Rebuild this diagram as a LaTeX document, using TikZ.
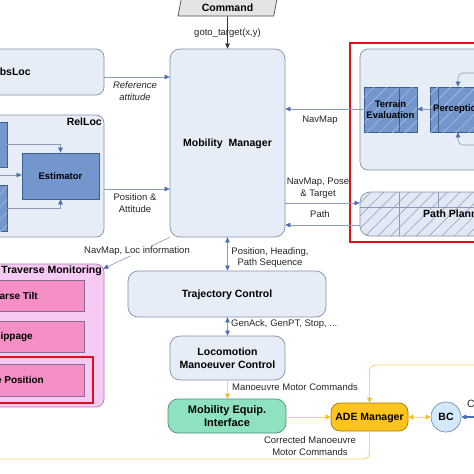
\documentclass[tikz,border=0pt]{standalone}
\usepackage{fontspec}
\setmainfont{Liberation Sans}
\usetikzlibrary{arrows.meta,patterns.meta,shapes.geometric}
\definecolor{grpborder}{HTML}{8391A8}
\definecolor{grpfill}{HTML}{E6EDF7}
\definecolor{darkborder}{HTML}{3F5F90}
\definecolor{darkfill}{HTML}{7397CC}
\definecolor{hatchlight}{HTML}{A9C1E6}
\definecolor{hatchdark}{HTML}{8A9AB8}
\definecolor{ppfill}{HTML}{E2E9F4}
\definecolor{linegray}{HTML}{8A9BB5}
\definecolor{arrowblue}{HTML}{4A6FB0}
\definecolor{tmfill}{HTML}{F7CAF4}
\definecolor{tmborder}{HTML}{B07FB0}
\definecolor{pinkfill}{HTML}{F490C6}
\definecolor{pinkborder}{HTML}{8C6C96}
\definecolor{redline}{HTML}{E0101A}
\definecolor{greenfill}{HTML}{8EE2BF}
\definecolor{greenborder}{HTML}{4E8C70}
\definecolor{adefill}{HTML}{FFC51E}
\definecolor{adeborder}{HTML}{A07C00}
\definecolor{bcfill}{HTML}{D3E9F9}
\definecolor{bcborder}{HTML}{6F8FB0}
\definecolor{yline}{HTML}{F4D56E}
\definecolor{yhead}{HTML}{F0C020}
\definecolor{cmdfill}{HTML}{E4E4E4}
\newcommand\fsmall{\fontsize{9.5}{11.5}\selectfont}
\newcommand\fmain{\fontsize{10.5}{12.5}\selectfont}
\begin{document}
\begin{tikzpicture}[x=1pt,y=-1pt,font=\fsmall,
  bx/.style args={#1/#2/#3/#4}{minimum width={(#3)-(#1)}, minimum height={(#4)-(#2)},
     at={({((#1)+(#3))/2},{((#2)+(#4))/2})}},
  grp/.style={draw=grpborder, fill=grpfill, rounded corners=8pt, line width=0.7pt, inner sep=0pt},
  mainbox/.style={grp, rounded corners=10pt, font=\fmain\bfseries, align=center, text depth=0pt},
  darkb/.style={draw=darkborder, fill=darkfill, line width=0.7pt, inner sep=0pt, font=\fsmall\bfseries, align=center},
  hatchd/.style={postaction={pattern={Lines[angle=45,distance=9pt,line width=0.6pt]}, pattern color=hatchlight}},
  hatchl/.style={postaction={pattern={Lines[angle=45,distance=9pt,line width=0.5pt]}, pattern color=hatchdark}},
  tgrp/.style={draw=tmborder, fill=tmfill, rounded corners=8pt, line width=0.7pt, inner sep=0pt},
  pinkb/.style={draw=pinkborder, fill=pinkfill, line width=0.7pt, inner sep=0pt},
  redbox/.style={draw=redline, line width=2.4pt},
  ttl/.style={font=\fmain\bfseries, inner sep=1pt},
  inner/.style={font=\fontsize{10}{12}\selectfont\bfseries, inner sep=1pt},
  lbl/.style={font=\fsmall, align=center, inner sep=1pt, text=black!85},
  arr/.style={draw=linegray, line width=0.6pt, -{Triangle[length=5pt,width=4.5pt,color=arrowblue]}},
  darr/.style={draw=linegray, line width=0.6pt, {Triangle[length=5pt,width=4.5pt,color=arrowblue]}-{Triangle[length=5pt,width=4.5pt,color=arrowblue]}},
  yarr/.style={draw=yline, line width=0.9pt, -{Triangle[length=5pt,width=5pt,color=yhead]}},
  ydarr/.style={draw=yline, line width=0.9pt, {Triangle[length=5pt,width=5pt,color=yhead]}-{Triangle[length=5pt,width=5pt,color=yhead]}},
  yplain/.style={draw=yline, line width=0.9pt}]
\useasboundingbox (0,0) rectangle (474,474);
\clip (0,0) rectangle (474,474);
\fill[white] (0,0) rectangle (474,474);

% level coordinates
\coordinate (y77) at (0,77);
\coordinate (y109) at (0,109);
\coordinate (y144) at (0,144);
\coordinate (y189) at (0,189);
\coordinate (y203) at (0,203);
\coordinate (y208) at (0,208);
\coordinate (y225) at (0,225);
\coordinate (x458) at (458,0);

% Command
\node[trapezium, trapezium left angle=67, trapezium right angle=113, trapezium stretches body,
      minimum width=99pt, minimum height=17pt, inner sep=0pt, draw=black!70, fill=cmdfill,
      line width=0.7pt, font=\fmain\bfseries] (cmd) at (227.5,7.5) {Command};

% Mobility Manager
\node[mainbox, bx=170/49/285/237] (mm) {Mobility~ Manager};

% AbsLoc
\node[grp, bx=-20/49/104/95] (abs) {};
\node[ttl, anchor=west] (abst) at (-9,72) {AbsLoc};

% RelLoc
\node[grp, bx=-20/115/104/237] (rel) {};
\node[ttl, anchor=north east] (relt) at (103,117) {RelLoc};
\node[darkb, bx=22/153/99/199] (est) {Estimator};
\node[darkb, bx=-20/122/7/167] (l1) {};
\node[darkb, hatchd, bx=-20/185/7/231] (l2) {};
\coordinate (lin) at (-5,175);
\draw[arr] (l1.east |- y144) -| (est.north);
\draw[arr] (lin) -- (est.west |- lin);
\draw[arr] (l2.east |- y208) -| (est.south);

% Perception group
\node[grp, bx=360/49/500/170] (pgrp) {};
\node[darkb, hatchd, bx=364/87/417/132] (te) {};
\draw[darkborder, line width=0.5pt] (399,87) -- (399,132);
\node[inner, align=center, font=\fsmall\bfseries] (tet) at (te) {Terrain\\Evaluation};
\node[darkb, hatchd, bx=430/87/500/132] (per) {};
\draw[darkborder, line width=0.5pt] (438,87) -- (438,132);
\node[inner, anchor=west, font=\fsmall\bfseries] (pert) at (432,109) {Perception};
\coordinate (lp1) at (490,73);
\coordinate (lp2) at (490,145);
\draw[arr, rounded corners=5pt] (lp1) -| (per.north -| x458);
\draw[arr, rounded corners=5pt] (lp2) -| (per.south -| x458);
\draw[arr] (per.west |- y109) -- (te.east |- y109);

% Path Planner
\node[grp, fill=ppfill, hatchl, rounded corners=10pt, bx=360/192/500/236] (pp) {};
\draw[hatchdark, line width=0.5pt] (360,207) -- (474,207);
\draw[hatchdark, line width=0.5pt] (399,192) -- (399,236);
\draw[hatchdark, line width=0.5pt] (438,192) -- (438,207);
\node[ttl, anchor=west] (ppt) at (422,214) {Path Planner};

% red frame right
\draw[redbox] (350,43) rectangle (500,242);

% connectors to Mobility Manager
\draw[black!80, line width=0.6pt, -{Triangle[length=5pt,width=4.5pt]}] (cmd.south) -- (mm.north);
\node[lbl] (goto) at (227.5,33) {goto\_target(x,y)};
\draw[arr] (abs.east |- y77) -- (mm.west |- y77);
\node[lbl, font=\fsmall\itshape] (refatt) at (135,91) {Reference\\attitude};
\draw[arr] (rel.east |- y189) -- (mm.west |- y189);
\node[lbl] (posatt) at (135,203) {Position \&\\Attitude};
\draw[arr] (te.west |- y109) -- (mm.east |- y109);
\node[lbl] (navmap) at (320,120) {NavMap};
\draw[arr] (mm.east |- y203) -- (pp.west |- y203);
\node[lbl] (navpose) at (318,188) {NavMap, Pose\\\& Target};
\draw[arr] (pp.west |- y225) -- (mm.east |- y225);
\node[lbl] (path) at (320,214) {Path};

% Traverse Monitoring
\node[tgrp, bx=-20/264/104/407] (tm) {};
\node[ttl, anchor=north east] (tmt) at (103,265) {Traverse Monitoring};
\node[pinkb, bx=-20/280/84/311] (p1) {};
\node[inner, anchor=east] (p1t) at (39,296) {Coarse Tilt};
\node[pinkb, bx=-20/321/84/352] (p2) {};
\node[inner, anchor=east] (p2t) at (34,337) {Slippage};
\node[pinkb, bx=-20/364/84/396] (p3) {};
\node[inner, anchor=east] (p3t) at (45,380) {Relative Position};
\draw[redbox] (-20,357) rectangle (93,403);

\draw[arr] (mm.south west) -- ([shift={(-1,5)}]tm.north east);
\node[lbl, fill=white] (navloc) at (137,251) {NavMap, Loc information};

% Trajectory / Locomotion
\node[mainbox, bx=128/271/326/317] (traj) {Trajectory Control};
\node[mainbox, bx=170/336/285/380] (loco) {Locomotion\\Manoeuver Control};
\draw[darr] (mm.south) -- (traj.north -| mm.south);
\node[lbl] (posh) at (270,257.5) {Position, Heading,\\Path Sequence};
\draw[darr] (traj.south -| loco.north) -- (loco.north);
\node[lbl, anchor=west] (gen) at (230,324) {GenAck, GenPT, Stop, ...};

% Mobility Equip, ADE, BC
\node[draw=greenborder, fill=greenfill, rounded corners=10pt, line width=0.7pt, inner sep=0pt, text depth=0pt,
      font=\fontsize{11}{12.5}\selectfont\bfseries, align=center, bx=168/399/286/433] (meq) {Mobility Equip.\\Interface};
\draw[yarr] (loco.south) -- (meq.north -| loco.south);
\node[lbl, anchor=west] (mmc) at (231,387) {Manoeuvre Motor Commands};

\node[draw=adeborder, fill=adefill, rounded corners=9pt, line width=0.7pt, inner sep=0pt, text depth=0pt,
      font=\fmain\bfseries, bx=331/403/408/431] (ade) {ADE Manager};
\node[circle, draw=bcborder, fill=bcfill, line width=0.7pt, minimum size=30pt, inner sep=0pt,
      font=\fmain\bfseries] (bc) at (446,417) {BC};
\draw[yarr] (meq.east |- ade.west) -- (ade.west);
\node[lbl] (cmc) at (310,446) {Corrected Manoeuvre\\Motor Commands};
\draw[ydarr] (ade.east) -- (bc.west);
\coordinate (ytop) at (490,365);
\coordinate (ybot) at (-10,459);
\draw[yarr, rounded corners=6pt] (ytop) -| (ade.north);
\draw[yplain, rounded corners=6pt] (ade.south) |- (ybot);
\coordinate (bcin) at (480,417);
\draw[draw=arrowblue, line width=1.2pt, -{Triangle[length=5pt,width=5pt]}] (bcin) -- (bc.east);
\node[lbl, anchor=west, font=\fmain] (cl) at (466,404) {C};
\end{tikzpicture}
\end{document}
